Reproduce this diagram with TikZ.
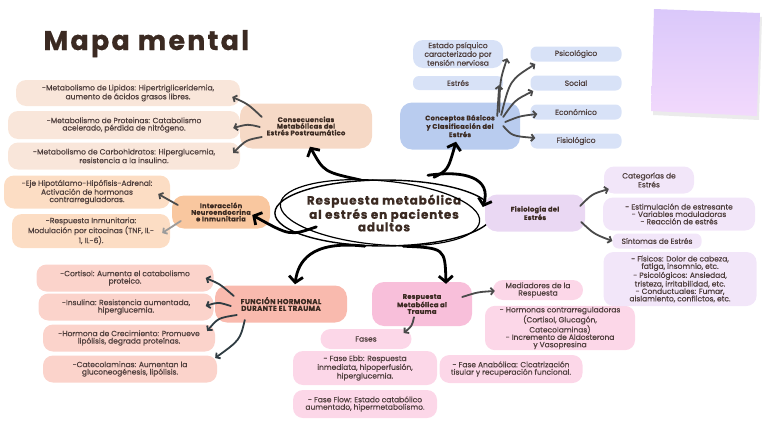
\documentclass[tikz,border=0pt]{standalone}
\usepackage{fontspec}
\setmainfont{Poppins}
\newfontfamily\hojafont[FakeBold=0.4]{Poppins}
\newfontfamily\titulofont[LetterSpace=8,FakeBold=0.6]{Poppins}
\newfontfamily\centrofont[LetterSpace=7,FakeBold=0.8]{Poppins}
\newfontfamily\temafont[LetterSpace=4,FakeBold=0.5]{Poppins}
\usetikzlibrary{shapes.geometric,arrows.meta,calc,positioning}
\definecolor{tinta}{HTML}{3B2A22}
\definecolor{texto}{HTML}{4E3E3C}
\definecolor{gris}{HTML}{4A4A4A}
\definecolor{pizarra}{HTML}{2F3C42}
\definecolor{melocoton}{HTML}{F6D9C6}
\definecolor{melocotonclaro}{HTML}{F9E6DA}
\definecolor{naranja}{HTML}{F9C79F}
\definecolor{naranjaclaro}{HTML}{FCDDC4}
\definecolor{salmon}{HTML}{F9BAAE}
\definecolor{salmonclaro}{HTML}{FBD3CB}
\definecolor{rosa}{HTML}{F8BFDA}
\definecolor{rosaclaro}{HTML}{FCD7E8}
\definecolor{lila}{HTML}{EAD8F3}
\definecolor{lilaclaro}{HTML}{F2E6F9}
\definecolor{azul}{HTML}{B9CCEF}
\definecolor{azulclaro}{HTML}{D8E2F7}
\definecolor{notaarriba}{HTML}{DAC8FA}
\definecolor{notaabajo}{HTML}{F2D9FC}

\begin{document}
\begin{tikzpicture}[x=1pt,y=-1pt,
    hoja/.style={rounded corners=10pt, align=center, text=texto, inner sep=1pt, font=\hojafont\fontsize{7.5}{7.4}\selectfont},
    tema/.style={rounded corners=12pt, align=center, text=tinta, inner sep=1pt, font=\temafont\bfseries\fontsize{6.7}{6.6}\selectfont},
    rama/.style={line width=2.8pt, line cap=round, -{Straight Barb[length=6pt,width=14pt]}},
    flecha/.style={line width=1.8pt, draw=gris, line cap=round, -{Straight Barb[length=3pt,width=7pt]}}]
                \useasboundingbox (0,0) rectangle (768,431);
                \fill[black!8] (656,13) -- (762,17) -- (759,120) -- (653,115) -- cycle;
                \shade[top color=notaarriba, bottom color=notaabajo] (654,9) -- (760,13) -- (757,116) -- (651,111) -- cycle;
                \node[anchor=base west, text=tinta, font=\titulofont\bfseries\fontsize{27}{27}\selectfont] (titulo) at (40,50) {Mapa mental};
                \node[ellipse, draw, line width=1.4pt, minimum width=178, minimum height=66, align=center, text=tinta, inner sep=0pt,
                      font=\centrofont\bfseries\fontsize{12}{12.6}\selectfont] (centro) at (384,213) {Respuesta metabólica\\ al estrés en pacientes\\ adultos};
                \draw[line width=1.2pt, rotate around={-5:(centro.center)}] ($(centro.center)+(-4,0)$) ellipse (100 and 32);
                \node[tema, fill=melocoton, minimum width=132, minimum height=45] (consec) at (306,126) {Consecuencias\\ Metabólicas del\\ Estrés Postraumático};
                \node[hoja, fill=melocotonclaro, minimum width=224, minimum height=26] (lipidos) at (128,93) {-Metabolismo de Lipidos: Hipertrigliceridemia,\\ aumento de ácidos grasos libres.};
                \node[hoja, fill=melocotonclaro, minimum width=232, minimum height=28] (proteinas) at (124,125) {-Metabolismo de Proteinas: Catabolismo\\ acelerado, pérdida de nitrógeno.};
                \node[hoja, fill=melocotonclaro, minimum width=232, minimum height=27] (carbo) at (124,156) {-Metabolismo de Carbohidratos: Hiperglucemia,\\ resistencia a la insulina.};
                \node[tema, fill=naranja, minimum width=98, minimum height=33] (interac) at (221,212) {Interacción\\ Neuroendocrina\\ e Inmunitaria};
                \node[hoja, fill=naranjaclaro, minimum width=166, minimum height=33] (eje) at (87,192) {-Eje Hipotálamo-Hipófisis-Adrenal:\\ Activación de hormonas\\ contrarreguladoras.};
                \node[hoja, fill=naranjaclaro, minimum width=158, minimum height=34] (inmun) at (91,231) {-Respuesta Inmunitaria:\\ Modulación por citocinas (TNF, IL-\\ 1, IL-6).};
                \node[tema, fill=salmon, minimum width=132, minimum height=37, font=\temafont\bfseries\fontsize{7.2}{6.8}\selectfont] (funcion) at (281,304) {FUNCIÓN HORMONAL\\ DURANTE EL TRAUMA};
                \node[hoja, fill=salmonclaro, minimum width=177, minimum height=27] (cortisol) at (125,278) {-Cortisol: Aumenta el catabolismo\\ proteico.};
                \node[hoja, fill=salmonclaro, minimum width=175, minimum height=27] (insulina) at (126,307) {-Insulina: Resistencia aumentada,\\ hiperglucemia.};
                \node[hoja, fill=salmonclaro, minimum width=172, minimum height=27] (hormona) at (129,338) {-Hormona de Crecimiento: Promueve\\ lipólisis, degrada proteínas.};
                \node[hoja, fill=salmonclaro, minimum width=174, minimum height=27] (catecol) at (130,369) {-Catecolaminas: Aumentan la\\ gluconeogénesis, lipólisis.};
                \node[tema, fill=rosa, minimum width=100, minimum height=44] (trauma) at (422,304) {Respuesta\\ Metabólica al\\ Trauma};
                \node[hoja, fill=rosaclaro, minimum width=90, minimum height=20] (mediadores) at (538,290) {Mediadores de la\\ Respuesta};
                \node[hoja, fill=rosaclaro, minimum width=150, minimum height=40] (hormonas) at (560,328) {- Hormonas contrarreguladoras\\ (Cortisol, Glucagón,\\ Catecolaminas)\\ - Incremento de Aldosterona\\ y Vasopresina};
                \node[hoja, fill=rosaclaro, minimum width=91, minimum height=20] (fases) at (366,339) {Fases};
                \node[hoja, fill=rosaclaro, minimum width=144, minimum height=34] (ebb) at (365,368) {- Fase Ebb: Respuesta\\ inmediata, hipoperfusión,\\ hiperglucemia.};
                \node[hoja, fill=rosaclaro, minimum width=143, minimum height=28] (anabolica) at (511,369) {- Fase Anabólica: Cicatrización\\ tisular y recuperación funcional.};
                \node[hoja, fill=rosaclaro, minimum width=144, minimum height=28] (flow) at (365,404) {- Fase Flow: Estado catabólico\\ aumentado, hipermetabolismo.};
                \node[tema, fill=lila, minimum width=100, minimum height=37] (fisio) at (535,213) {Fisiología del\\ Estrés};
                \node[hoja, fill=lilaclaro, minimum width=90, minimum height=27] (categ) at (649,180) {Categorías de\\ Estrés};
                \node[hoja, fill=lilaclaro, minimum width=152, minimum height=33] (estimul) at (679,214) {- Estimulación de estresante\\ - Variables moduladoras\\ - Reacción de estrés};
                \node[hoja, fill=lilaclaro, minimum width=89, minimum height=15, rounded corners=6pt] (sintomas) at (657,241) {Síntomas de Estrés};
                \node[hoja, fill=lilaclaro, minimum width=153, minimum height=54] (fisicos) at (680,279) {- Físicos: Dolor de cabeza,\\ fatiga, insomnio, etc.\\ - Psicológicos: Ansiedad,\\ tristeza, irritabilidad, etc.\\ - Conductuales: Fumar,\\ aislamiento, conflictos, etc.};
                \node[tema, fill=azul, minimum width=120, minimum height=47] (concep) at (460,126) {Conceptos Básicos\\ y Clasificación del\\ Estrés};
                \node[hoja, fill=azulclaro, minimum width=90, minimum height=28] (estado) at (458,54) {Estado psíquico\\ caracterizado por\\ tensión nerviosa};
                \node[hoja, fill=azulclaro, minimum width=90, minimum height=14, rounded corners=6pt] (estres) at (458,83) {Estrés};
                \node[hoja, fill=azulclaro, minimum width=91, minimum height=15, rounded corners=6pt] (psico) at (576,54) {Psicológico};
                \node[hoja, fill=azulclaro, minimum width=91, minimum height=15, rounded corners=6pt] (social) at (576,83) {Social};
                \node[hoja, fill=azulclaro, minimum width=91, minimum height=15, rounded corners=6pt] (econ) at (576,112) {Económico};
                \node[hoja, fill=azulclaro, minimum width=91, minimum height=15, rounded corners=6pt] (fisiol) at (576,141) {Fisiológico};
                \draw[rama] (centro.125) .. controls (324,172) .. ($(consec.south)+(4,-2)$);
                \draw[rama] ($(centro.north)+(50,-2)$) .. controls (448,170) .. ($(concep.south)+(-4,-8)$);
                \draw[rama] ($(centro.north)+(44,-4)$) .. controls (465,170) and (492,178) .. ($(fisio.west)+(-2,-6)$);
                \draw[rama] ($(centro.south west)+(10,-10)$) .. controls (290,236) .. ($(interac.east)+(-18,3)$);
                \draw[rama] (centro.240) .. controls (310,240) and (298,262) .. ($(funcion.north)+(14,-1)$);
                \draw[rama] (centro.300) .. controls (445,248) .. ($(trauma.north)+(24,2)$);
                \draw[flecha] ($(consec.west)+(22,-9)$) .. controls (248,104) .. ($(lipidos.east)+(-8,4)$);
                \draw[flecha] ($(consec.west)+(20,1)$) .. controls (248,124) .. ($(proteinas.east)+(-7,3)$);
                \draw[flecha] ($(consec.west)+(22,11)$) .. controls (246,140) .. ($(carbo.east)+(-7,-3)$);
                \draw[flecha] ($(interac.west)+(6,-7)$) -- ($(eje.east)+(-12,2)$);
                \draw[flecha, draw=gris!55] ($(interac.west)+(9,9)$) -- ($(inmun.east)+(-8,2)$);
                \draw[flecha, draw=pizarra] ($(funcion.west)+(19,-8)$) .. controls (220,284) .. ($(cortisol.east)+(-8,0)$);
                \draw[flecha, draw=pizarra] ($(funcion.west)+(16,2)$) .. controls (218,302) .. ($(insulina.east)+(-8,-1)$);
                \draw[flecha, draw=pizarra] ($(funcion.west)+(22,11)$) .. controls (218,318) .. ($(hormona.east)+(-8,-7)$);
                \draw[flecha, draw=pizarra] ($(funcion.west)+(30,16)$) .. controls (240,340) .. ($(catecol.east)+(-2,-11)$);
                \draw[flecha] ($(trauma.east)+(-10,-7)$) .. controls (478,292) .. ($(mediadores.west)+(2,1)$);
                \draw[flecha] ($(trauma.south)+(-8,-9)$) .. controls (412,326) .. ($(fases.east)+(-8,-6)$);
                \draw[flecha] ($(fisio.east)+(-5,-7)$) .. controls (592,194) .. ($(categ.west)+(5,9)$);
                \draw[flecha] ($(fisio.east)+(-4,9)$) .. controls (594,234) .. (sintomas.west);
                \draw[flecha] ($(concep.east)+(-21,-14)$) .. controls (500,80) .. ($(estado.south east)+(4,-10)$);
                \draw[flecha] ($(concep.east)+(-23,-10)$) -- ($(estres.east)+(-4,2)$);
                \draw[flecha] ($(concep.east)+(-19,-11)$) .. controls (510,80) .. ($(psico.west)+(5,10)$);
                \draw[flecha] ($(concep.east)+(-17,-9)$) .. controls (515,100) .. ($(social.west)+(3,8)$);
                \draw[flecha] ($(concep.east)+(-15,-4)$) .. controls (520,116) .. ($(econ.west)+(7,2)$);
                \draw[flecha] ($(concep.east)+(-17,0)$) .. controls (512,136) .. ($(fisiol.west)+(5,-3)$);
            \end{tikzpicture}
\end{document}
